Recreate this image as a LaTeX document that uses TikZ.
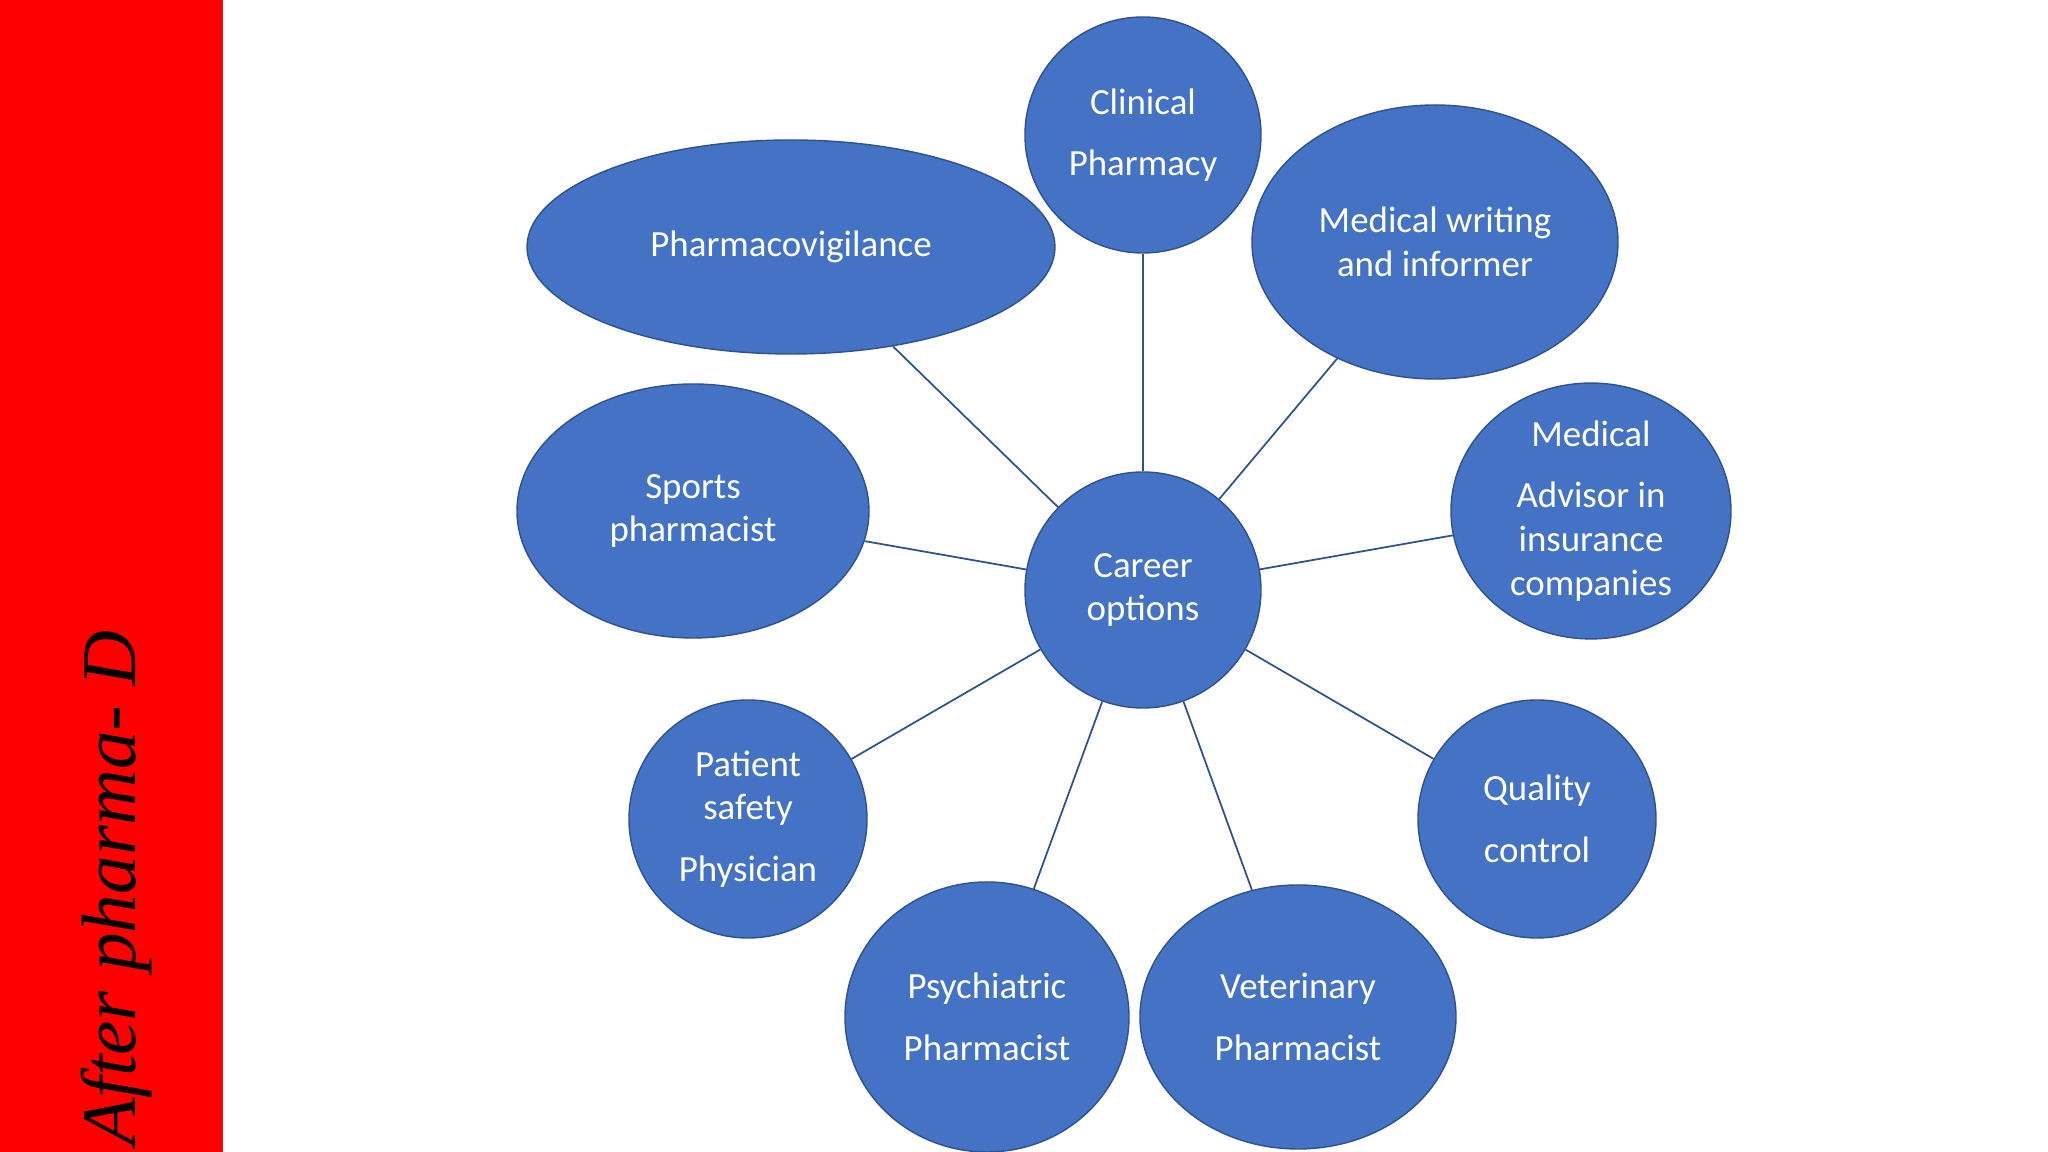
\documentclass[tikz,border=0pt]{standalone}
\usepackage{fontspec}
\setmainfont{Carlito}
\newfontfamily\titlefont{Liberation Serif}
\usetikzlibrary{positioning, shapes.geometric}
\definecolor{bubble}{RGB}{68,114,196}
\definecolor{bubbleline}{RGB}{47,82,143}
\definecolor{sidebar}{RGB}{255,0,0}

\begin{document}
\begin{tikzpicture}[
    bubble/.style={ellipse, draw=bubbleline, fill=bubble, text=white, inner sep=0pt,
        align=center, font=\fontsize{10.5}{12.5}\selectfont},
    link/.style={draw=bubbleline, line width=0.5pt}
]
\useasboundingbox (0,0) rectangle (20.48,11.52);
\fill[sidebar] (0,0) rectangle (2.23,11.52);
\node[rotate=90, font=\titlefont\fontsize{22}{22}\itshape\selectfont] (title) at (1.17,2.64) {After pharma- D};

% outer options
\node[bubble, minimum width=2.36cm, minimum height=2.36cm] (clin) at (11.43,10.17) {Clinical\\[5pt]Pharmacy};
\node[bubble, minimum width=5.28cm, minimum height=2.14cm] (pv) at (7.91,9.05) {Pharmacovigilance};
\node[bubble, minimum width=3.66cm, minimum height=2.74cm] (mw) at (14.35,9.10) {Medical writing\\and informer};
\node[bubble, minimum width=2.80cm, minimum height=2.38cm] (ma) at (15.91,6.41) {Medical\\[5pt]Advisor in\\insurance\\companies};
\node[bubble, minimum width=3.52cm, minimum height=2.54cm] (sp) at (6.93,6.41) {Sports\\pharmacist};
\node[bubble, minimum width=2.38cm, minimum height=2.38cm] (ps) at (7.48,3.33) {Patient\\safety\\[5pt]Physician};
\node[bubble, minimum width=2.38cm, minimum height=2.38cm] (qc) at (15.37,3.33) {Quality\\[5pt]control};
\node[bubble, minimum width=2.84cm, minimum height=2.70cm] (psy) at (9.87,1.35) {Psychiatric\\[5pt]Pharmacist};
\node[bubble, minimum width=3.16cm, minimum height=2.64cm] (vet) at (12.98,1.35) {Veterinary\\[5pt]Pharmacist};

% hub
\node[bubble, minimum width=2.36cm, minimum height=2.36cm] (hub) at (11.43,5.62) {Career\\options};

\foreach \n in {clin, pv, mw, ma, sp, ps, qc, psy, vet}
    \draw[link] (hub) -- (\n);

\end{tikzpicture}
\end{document}
